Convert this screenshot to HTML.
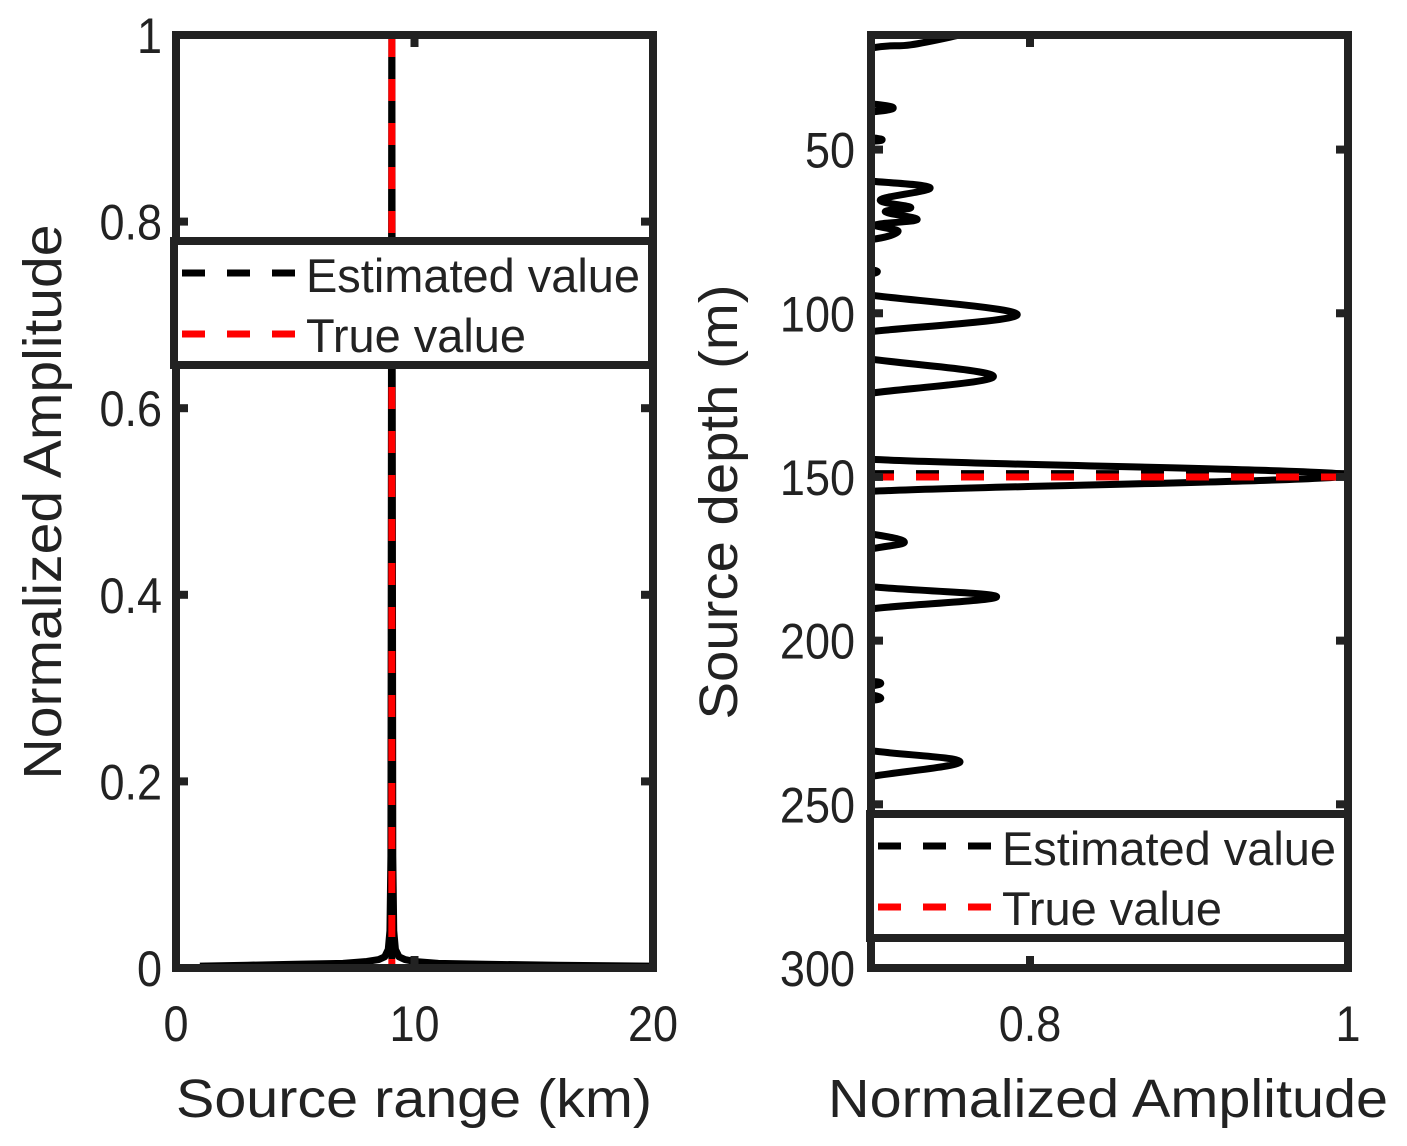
<!DOCTYPE html>
<html><head><meta charset="utf-8"><style>
html,body{margin:0;padding:0;background:#fff}
svg{display:block}
text{font-family:"Liberation Sans",Arial,sans-serif;fill:#222}
</style></head><body>
<svg id="fig" width="1407" height="1146" viewBox="0 0 1407 1146" xmlns="http://www.w3.org/2000/svg">
<defs>
<clipPath id="clipL"><rect x="176" y="35" width="477" height="933"/></clipPath>
<clipPath id="clipR"><rect x="871" y="35" width="477" height="933"/></clipPath>
</defs>
<g id="left"></g>
<g id="right"></g>
</svg>
<script>
// ---- Left panel data ----
const rangeKm = [1, 3, 5, 7, 8, 8.5, 8.75, 8.9, 8.97, 9.01, 9.05, 9.09, 9.13, 9.2, 9.35, 9.6, 10, 11, 13, 16, 20];
const rangeAmp = [0.002, 0.003, 0.004, 0.005, 0.007, 0.009, 0.012, 0.02, 0.04, 0.12, 1.0, 0.12, 0.04, 0.02, 0.012, 0.009, 0.007, 0.005, 0.004, 0.003, 0.002];
const rangeXTicks = [0, 10, 20];
const rangeYTicks = [0, 0.2, 0.4, 0.6, 0.8, 1];
const rangeYTickLabels = ["0", "0.2", "0.4", "0.6", "0.8", "1"];
const rangeEstimated = [9.05];
const rangeTrue = [9.05];

// ---- Right panel data ----
const depthM = [15, 18, 19, 25, 34, 37.3, 40, 45, 47, 49, 57, 59.2, 61.6, 65.3, 67.7, 69, 71.4, 73, 75, 77.5, 79, 85, 87.3, 89.5, 92, 94.5, 100.4, 105.6, 108, 111, 114, 119.3, 124.4, 127, 140, 144.6, 149.5, 154.4, 158, 165, 167.4, 169.9, 172, 176, 180, 183.5, 186.6, 190.3, 194, 210, 212.9, 215, 217.7, 220, 230, 233.6, 237, 241.5, 245, 300];
const depthAmp = [0.756, 0.725, 0.70, 0.65, 0.68, 0.714, 0.68, 0.68, 0.707, 0.68, 0.66, 0.69, 0.737, 0.706, 0.725, 0.709, 0.729, 0.703, 0.717, 0.70, 0.66, 0.68, 0.704, 0.68, 0.66, 0.70, 0.792, 0.70, 0.66, 0.66, 0.70, 0.777, 0.70, 0.66, 0.66, 0.70, 1.0, 0.70, 0.66, 0.66, 0.70, 0.721, 0.70, 0.66, 0.66, 0.70, 0.779, 0.70, 0.66, 0.68, 0.706, 0.69, 0.706, 0.68, 0.66, 0.70, 0.756, 0.70, 0.66, 0.65];
const depthYTicks = [50, 100, 150, 200, 250, 300];
const depthXTicks = [0.8, 1];
const depthXTickLabels = ["0.8", "1"];
const depthEstimated = [149];
const depthTrue = [150];

const NS = "http://www.w3.org/2000/svg";
function mk(tag, attrs, parent, txt){
  const e = document.createElementNS(NS, tag);
  for (const k in attrs) e.setAttribute(k, attrs[k]);
  if (txt !== undefined) e.textContent = txt;
  parent.appendChild(e);
  return e;
}
function smoothPath(p){
  let d = "M" + p[0][0] + "," + p[0][1];
  for (let i = 0; i < p.length - 1; i++){
    const p0 = p[i-1] || p[i], p1 = p[i], p2 = p[i+1], p3 = p[i+2] || p2;
    const t = 0.18;
    const c1x = p1[0] + (p2[0]-p0[0])*t, c1y = p1[1] + (p2[1]-p0[1])*t;
    const c2x = p2[0] - (p3[0]-p1[0])*t, c2y = p2[1] - (p3[1]-p1[1])*t;
    d += " C" + c1x + "," + c1y + " " + c2x + "," + c2y + " " + p2[0] + "," + p2[1];
  }
  return d;
}
const AX = "#222";
const TF = 50;

// ---- Left panel ----
const L = document.getElementById('left');
const lx = v => 176 + (v - 0) / 20 * 477;
const ly = v => 968 - v * 933;
let ptsL = rangeKm.map((r, i) => lx(r) + "," + ly(rangeAmp[i])).join(" ");
let curveL = mk('polyline', {points: ptsL, fill: 'none', stroke: '#000', 'stroke-width': 7, 'stroke-linejoin': 'round', 'clip-path': 'url(#clipL)'}, L);


rangeEstimated.forEach(v => {
  const e = mk('line', {x1: lx(v), x2: lx(v), y1: 35, y2: 968, stroke: '#000', 'stroke-width': 7, 'stroke-dasharray': '22 22', 'stroke-dashoffset': 22}, L);
  
  
});
rangeTrue.forEach(v => {
  const e = mk('line', {x1: lx(v), x2: lx(v), y1: 35, y2: 968, stroke: '#f00', 'stroke-width': 7, 'stroke-dasharray': '22 22'}, L);
  
  
});
let frameL = mk('rect', {x: 176, y: 35, width: 477, height: 933, fill: 'none', stroke: AX, 'stroke-width': 8}, L);


rangeXTicks.forEach(t => {
  mk('line', {x1: lx(t), x2: lx(t), y1: 968, y2: 956, stroke: AX, 'stroke-width': 8}, L);
  mk('line', {x1: lx(t), x2: lx(t), y1: 35, y2: 47, stroke: AX, 'stroke-width': 8}, L);
  const tx = mk('text', {x: lx(t), y: 1041, 'font-size': TF, 'text-anchor': 'middle', transform: 'translate(' + lx(t) + ',0) scale(0.9,1) translate(' + (-lx(t)) + ',0)'}, L, String(t));
  
  
});
rangeYTicks.forEach((t, i) => {
  mk('line', {x1: 176, x2: 188, y1: ly(t), y2: ly(t), stroke: AX, 'stroke-width': 8}, L);
  mk('line', {x1: 653, x2: 641, y1: ly(t), y2: ly(t), stroke: AX, 'stroke-width': 8}, L);
  const tx = mk('text', {x: 162, y: ly(t) + 18, 'font-size': TF, 'text-anchor': 'end', transform: 'translate(162,0) scale(0.9,1) translate(-162,0)'}, L, rangeYTickLabels[i]);
  
  
});
let xtl = mk('text', {x: 414, y: 1117, 'font-size': 54, 'text-anchor': 'middle', textLength: 476, lengthAdjust: 'spacingAndGlyphs'}, L, 'Source range (km)');


let ytl = mk('text', {x: 0, y: 0, 'font-size': 54, 'text-anchor': 'middle', textLength: 555, lengthAdjust: 'spacingAndGlyphs', transform: 'translate(61,502) rotate(-90)'}, L, 'Normalized Amplitude');



function legend(parent, ox, oy, name){
  const g = mk('g', {transform: 'translate(' + ox + ',' + oy + ')'}, parent);
  
  
  mk('rect', {x: 174, y: 241, width: 478, height: 124, fill: '#fff', stroke: AX, 'stroke-width': 8}, g);
  mk('line', {x1: 182, x2: 297, y1: 273, y2: 273, stroke: '#000', 'stroke-width': 7, 'stroke-dasharray': '23 22'}, g);
  mk('line', {x1: 182, x2: 297, y1: 334, y2: 334, stroke: '#f00', 'stroke-width': 7, 'stroke-dasharray': '23 22'}, g);
  const t1 = mk('text', {x: 306, y: 292, 'font-size': 47, fill: '#000', textLength: 334, lengthAdjust: 'spacingAndGlyphs'}, g, 'Estimated value');
  
  
  const t2 = mk('text', {x: 306, y: 352, 'font-size': 47, fill: '#000', textLength: 220, lengthAdjust: 'spacingAndGlyphs'}, g, 'True value');
  
  
}
legend(L, 0, 0, 'range-legend');

// ---- Right panel ----
const R = document.getElementById('right');
const rx = v => 871 + (v - 0.7) / 0.3 * 477;
const ry = v => 35 + (v - 15) / 285 * 933;
let ptsR = depthM.map((d, i) => [rx(depthAmp[i]), ry(d)]);
let curveR = mk('path', {d: smoothPath(ptsR), fill: 'none', stroke: '#000', 'stroke-width': 7, 'stroke-linejoin': 'round', 'clip-path': 'url(#clipR)'}, R);


depthEstimated.forEach(v => {
  const e = mk('line', {x1: 871, x2: 1348, y1: ry(v), y2: ry(v), stroke: '#000', 'stroke-width': 7, 'stroke-dasharray': '23 22'}, R);
  
  
});
depthTrue.forEach(v => {
  const e = mk('line', {x1: 871, x2: 1348, y1: ry(v), y2: ry(v), stroke: '#f00', 'stroke-width': 7, 'stroke-dasharray': '23 22'}, R);
  
  
});
let frameR = mk('rect', {x: 871, y: 35, width: 477, height: 933, fill: 'none', stroke: AX, 'stroke-width': 8}, R);


depthXTicks.forEach((t, i) => {
  mk('line', {x1: rx(t), x2: rx(t), y1: 968, y2: 956, stroke: AX, 'stroke-width': 8}, R);
  mk('line', {x1: rx(t), x2: rx(t), y1: 35, y2: 47, stroke: AX, 'stroke-width': 8}, R);
  const tx = mk('text', {x: rx(t), y: 1041, 'font-size': TF, 'text-anchor': 'middle', transform: 'translate(' + rx(t) + ',0) scale(0.9,1) translate(' + (-rx(t)) + ',0)'}, R, depthXTickLabels[i]);
  
  
});
depthYTicks.forEach(t => {
  mk('line', {x1: 871, x2: 883, y1: ry(t), y2: ry(t), stroke: AX, 'stroke-width': 8}, R);
  mk('line', {x1: 1348, x2: 1336, y1: ry(t), y2: ry(t), stroke: AX, 'stroke-width': 8}, R);
  const tx = mk('text', {x: 855, y: ry(t) + 18, 'font-size': TF, 'text-anchor': 'end', transform: 'translate(855,0) scale(0.9,1) translate(-855,0)'}, R, String(t));
  
  
});
let xtr = mk('text', {x: 1108, y: 1117, 'font-size': 54, 'text-anchor': 'middle', textLength: 560, lengthAdjust: 'spacingAndGlyphs'}, R, 'Normalized Amplitude');


let ytr = mk('text', {x: 0, y: 0, 'font-size': 54, 'text-anchor': 'middle', textLength: 435, lengthAdjust: 'spacingAndGlyphs', transform: 'translate(737,502) rotate(-90)'}, R, 'Source depth (m)');


legend(R, 696, 573, 'depth-legend');
</script>
</body></html>
